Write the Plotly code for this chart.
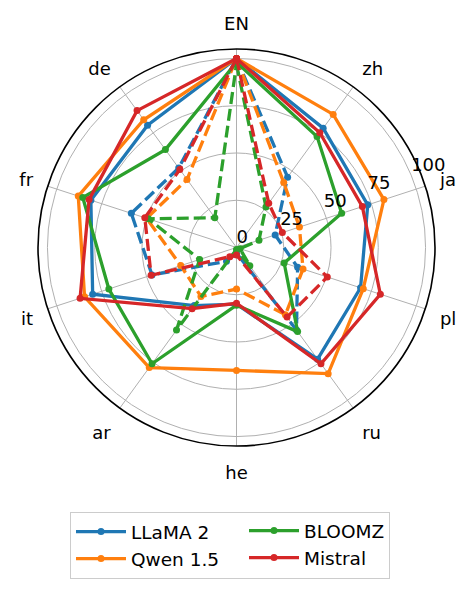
import plotly.graph_objects as go

categories = ["EN", "zh", "ja", "pl", "ru", "he", "ar", "it", "fr", "de"]

models = ["LLaMA 2", "Qwen 1.5", "BLOOMZ", "Mistral"]
colors = ["#1f77b4", "#ff7f0e", "#2ca02c", "#d62728"]
legend_ids = ["legend", "legend", "legend2", "legend2"]

# solid lines
llama_solid = [100, 78, 73, 69, 73, 30, 38, 80, 81, 80]
qwen_solid = [100, 87, 82, 70.5, 82.5, 65, 78.5, 84.5, 88, 83.5]
bloomz_solid = [98, 72.5, 58.5, 26.5, 55, 30.5, 76, 71, 85.5, 64]
mistral_solid = [100, 75, 70, 80, 76, 29.5, 40, 87, 82, 89.5]

# dashed lines
llama_dashed = [100, 46, 21.5, 34, 54, 3, 9, 47, 58.5, 52]
qwen_dashed = [100, 42.5, 35, 37, 44, 22, 32, 31, 50, 44.5]
bloomz_dashed = [97, 26.5, 12.5, 2, 12, 1, 54, 20.5, 49, 19.5]
mistral_dashed = [100, 29, 25.5, 50.5, 45.5, 4, 6, 47.5, 51, 51]

radial_ticks = [0, 25, 50, 75, 100]
radial_label_angle = 67.5  # degrees clockwise from EN

solid = [llama_solid, qwen_solid, bloomz_solid, mistral_solid]
dashed = [llama_dashed, qwen_dashed, bloomz_dashed, mistral_dashed]

tick_font = dict(family="DejaVu Sans", size=18, color="black")
legend_font = dict(family="DejaVu Sans", size=18.5, color="black")

fig = go.Figure()
for name, col, lg, s, d in zip(models, colors, legend_ids, solid, dashed):
    fig.add_trace(go.Scatterpolar(
        r=s + s[:1], theta=categories + categories[:1],
        mode="lines+markers", name=name, legend=lg,
        line=dict(color=col, width=3.3),
        marker=dict(color=col, size=7),
    ))
    fig.add_trace(go.Scatterpolar(
        r=d + d[:1], theta=categories + categories[:1],
        mode="lines+markers", name=name + " (dashed)", showlegend=False,
        line=dict(color=col, width=3.3, dash="12px,5px"),
        marker=dict(color=col, size=7),
    ))

# radial tick labels (matplotlib style, anchored bottom-left of each ring crossing)
fig.add_trace(go.Scatterpolar(
    r=radial_ticks, theta=[radial_label_angle] * len(radial_ticks),
    mode="text", text=[str(v) for v in radial_ticks],
    textposition="top right", textfont=tick_font,
    subplot="polar2", showlegend=False, hoverinfo="skip",
))

W, H = 474, 589
OFF = 8  # page body margin

domain = dict(x=[(38 - OFF) / W, (435 - OFF) / W],
              y=[1 - (446 - OFF) / H, 1 - (49 - OFF) / H])

fig.update_layout(
    width=W, height=H,
    margin=dict(l=0, r=0, t=0, b=0, autoexpand=False),
    paper_bgcolor="white",
    font=tick_font,
    polar=dict(
        domain=domain,
        bgcolor="white",
        radialaxis=dict(
            range=[0, 105], tickvals=radial_ticks,
            showticklabels=False, showline=False, ticks="",
            gridcolor="#b0b0b0", gridwidth=1.2,
        ),
        angularaxis=dict(
            type="category", categoryarray=categories,
            rotation=90, direction="clockwise",
            showline=True, linecolor="black", linewidth=1.6,
            gridcolor="#b0b0b0", gridwidth=1.2,
            ticks="outside", ticklen=11, tickcolor="rgba(0,0,0,0)",
            tickfont=tick_font,
        ),
    ),
    polar2=dict(
        domain=domain,
        bgcolor="rgba(0,0,0,0)",
        radialaxis=dict(range=[0, 105], visible=False),
        angularaxis=dict(rotation=90, direction="clockwise", visible=False),
    ),
    showlegend=True,
    legend=dict(
        orientation="h", x=(70 - OFF) / W, xanchor="left",
        y=1 - (512 - OFF) / H, yanchor="top",
        bordercolor="#cccccc", borderwidth=1, bgcolor="white",
        font=legend_font, itemwidth=50, entrywidth=253,
    ),
    legend2=dict(
        orientation="h", x=(244 - OFF) / W, xanchor="left",
        y=1 - (512 - OFF) / H, yanchor="top",
        borderwidth=0, bgcolor="rgba(0,0,0,0)",
        font=legend_font, itemwidth=50, entrywidth=200,
    ),
)

fig.write_html("out.html")
